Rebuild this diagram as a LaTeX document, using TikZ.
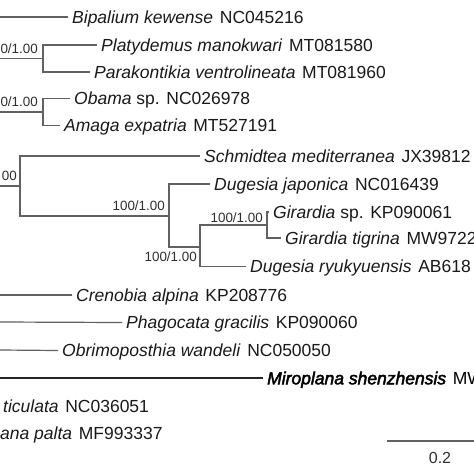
\documentclass[tikz,border=0pt]{standalone}
\usepackage{fontspec}
\setmainfont{Liberation Sans}
\newfontface\heavyit[FakeBold=2.5]{Liberation Sans Italic}
\newcommand\accgap{\hspace{0.38em}}
\begin{document}
\begin{tikzpicture}[x=1pt,y=-1pt,
  branch/.style={draw=black!62, line width=1.2pt},
  leaf/.style={anchor=west, inner xsep=4pt, inner ysep=0pt, text height=12.6pt, text depth=0pt, text=black!90, font=\fontsize{17.5}{20}\selectfont},
  support/.style={inner sep=1pt, text height=9.6pt, text depth=0pt, text=black!82, font=\fontsize{13.4}{15}\selectfont}]
\useasboundingbox (0,0) rectangle (474,474);

% free ends at the cut-off left margin
\coordinate (rBip) at (0,17);
\coordinate (rC1) at (0,58.5);
\coordinate (rC2) at (0,112);
\coordinate (rC3) at (0,186);
\coordinate (rCren) at (0,295);
\coordinate (rPhag) at (0,322);
\coordinate (rObri) at (0,350);
\coordinate (rMiro) at (0,378);

% internal nodes
\coordinate (c1) at (43,58.5);
\coordinate (c2) at (43,112);
\coordinate (c3) at (20,186);
\coordinate (c4) at (169,216);
\coordinate (c5) at (200,247);
\coordinate (c6) at (267,225);

% taxa
\node[leaf] (bip) at (68,17) {\textit{Bipalium kewense}\accgap NC045216};
\node[leaf] (platy) at (97,45) {\textit{Platydemus manokwari}\accgap MT081580};
\node[leaf] (parak) at (90,72) {\textit{Parakontikia ventrolineata}\accgap MT081960};
\node[leaf] (obama) at (70,98.5) {\textit{Obama} sp.\accgap NC026978};
\node[leaf] (amaga) at (60,125.5) {\textit{Amaga expatria}\accgap MT527191};
\node[leaf] (schm) at (200,156) {\textit{Schmidtea mediterranea}\accgap JX39812};
\node[leaf] (djap) at (210,184) {\textit{Dugesia japonica}\accgap NC016439};
\node[leaf] (girsp) at (269,212) {\textit{Girardia} sp.\accgap KP090061};
\node[leaf] (girtig) at (281,238) {\textit{Girardia tigrina}\accgap MW9722};
\node[leaf] (dryu) at (246,266.5) {\textit{Dugesia ryukyuensis}\accgap AB618};
\node[leaf] (cren) at (72,295) {\textit{Crenobia alpina}\accgap KP208776};
\node[leaf] (phag) at (122,322.5) {\textit{Phagocata gracilis}\accgap KP090060};
\node[leaf] (obri) at (58,350.5) {\textit{Obrimoposthia wandeli}\accgap NC050050};
\node[leaf, text=black] (miro) at (263,378) {{\heavyit Miroplana shenzhensis}\accgap MW};
\node[leaf] (retic) at (-1,406.5) {\textit{ticulata}\accgap NC036051};
\node[leaf] (palta) at (-4,433.5) {\textit{ana palta}\accgap MF993337};

% branches
\draw[branch] (rBip) -- (bip.west);
\draw[branch] (rC1) -- (c1);
\draw[branch] (platy.west) -| (c1) |- (parak.west);
\draw[branch] (rC2) -- (c2);
\draw[branch] (obama.west) -| (c2) |- (amaga.west);
\draw[branch] (rC3) -- (c3);
\draw[branch] (schm.west) -| (c3) |- (c4);
\draw[branch] (djap.west) -| (c4) |- (c5);
\draw[branch] (c6) -| (c5) |- (dryu.west);
\draw[branch] (girsp.west) -| (c6) |- (girtig.west);
\draw[branch] (rCren) -- (cren.west);
\draw[branch] (rPhag) -- (phag.west);
\draw[branch] (rObri) -- (obri.west);
\draw[branch, draw=black!85, line width=1.8pt] (rMiro) -- (miro.west);

% support values
\node[support, anchor=south east] (s1) at (39,54.5) {0/1.00};
\node[support, anchor=south east] (s2) at (39,108) {00/1.00};
\node[support, anchor=south east] (s3) at (18,182) {00};
\node[support, anchor=south east] (s4) at (166,212) {100/1.00};
\node[support, anchor=north east] (s5) at (198,250.5) {100/1.00};
\node[support, anchor=south east] (s6) at (264,224) {100/1.00};

% scale bar
\coordinate (sbL) at (387,441);
\coordinate (sbR) at (474,441);
\draw[branch] (sbL) -- (sbR);
\node[support, font=\fontsize{16}{18}\selectfont, text height=11.5pt] (sbText) at (440,458) {0.2};
\end{tikzpicture}
\end{document}
